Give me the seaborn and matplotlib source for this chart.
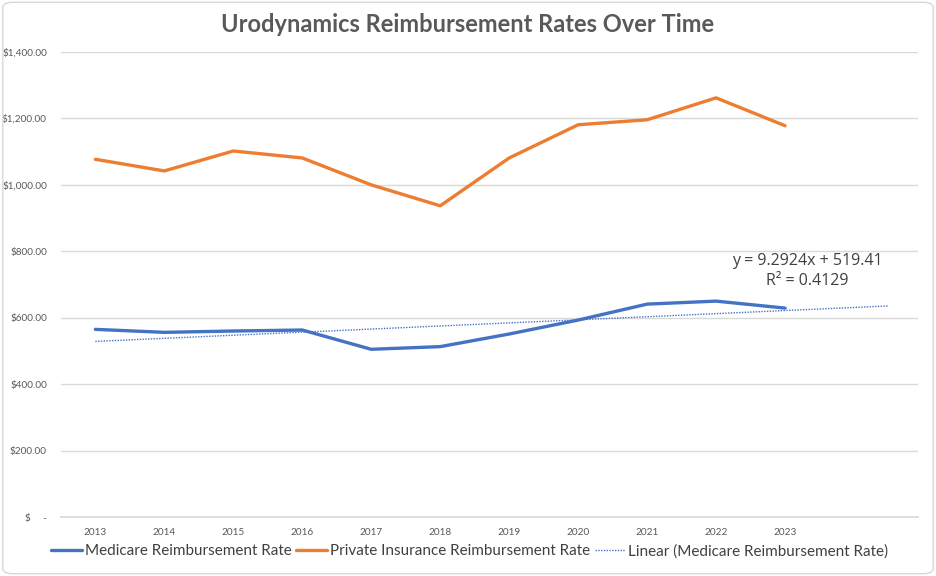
import matplotlib
matplotlib.use("Agg")
import matplotlib.pyplot as plt
import numpy as np
import pandas as pd
import seaborn as sns
from matplotlib.patches import FancyBboxPatch

# Data
years = ["2013", "2014", "2015", "2016", "2017", "2018", "2019", "2020", "2021", "2022", "2023"]
medicare = [565, 556, 560, 563, 505, 513, 551, 593, 641, 650, 629]
private = [1077, 1042, 1102, 1081, 1000, 937, 1081, 1181, 1196, 1262, 1178]
trend_slope = 9.2924
trend_intercept = 519.41
trend_r2 = 0.4129
y_ticks = [0, 200, 400, 600, 800, 1000, 1200, 1400]

sns.set_theme(style="white")
plt.rcParams["font.family"] = ["Lato", "DejaVu Sans"]

df = pd.DataFrame({"idx": np.arange(len(years)), "Year": years,
                   "Medicare": medicare, "Private": private})

# Excel trendline: x = 1..n, forecast forward to 12.5
trend_x = np.array([1, len(years) + 1.5])
trend = pd.DataFrame({"idx": trend_x - 1, "val": trend_slope * trend_x + trend_intercept})

fig = plt.figure(figsize=(9.36, 5.76), dpi=100)
ax = fig.add_axes([0.065, 0.1024, 0.916, 0.8073])

blue = "#4472C4"
orange = "#ED7D31"
sns.lineplot(data=df, x="idx", y="Medicare", ax=ax, color=blue, lw=2.4,
             label="Medicare Reimbursement Rate")
sns.lineplot(data=df, x="idx", y="Private", ax=ax, color=orange, lw=2.4,
             label="Private Insurance Reimbursement Rate")
sns.lineplot(data=trend, x="idx", y="val", ax=ax, color=blue, lw=1.0,
             linestyle=(0, (1, 1)), label="Linear (Medicare Reimbursement Rate)")

ax.set_xlim(-0.5, 11.93)
ax.set_ylim(0, 1400)
ax.set_xticks(df["idx"])
ax.set_xticklabels(years)
ax.set_yticks(y_ticks)
ax.set_yticklabels([f"${v:,.2f}" if v else "$     -" for v in y_ticks])
ax.tick_params(axis="both", labelsize=7.2, colors="#595959", length=0)
ax.tick_params(axis="x", pad=8)
ax.tick_params(axis="y", pad=10)
ax.set_xlabel("")
ax.set_ylabel("")
ax.grid(axis="y", color="#D9D9D9", lw=1)
for s in ["top", "right", "left"]:
    ax.spines[s].set_visible(False)
ax.spines["bottom"].set_color("#D9D9D9")

fig.text(0.5, 0.957, "Urodynamics Reimbursement Rates Over Time", fontsize=17,
         fontweight="bold", color="#595959", ha="center", va="center")

ax.text(10.32, 795, f"y = {trend_slope}x + {trend_intercept}\nR² = {trend_r2}",
        ha="center", va="top", fontsize=11.5, color="#404040",
        linespacing=1.35, family=["Open Sans", "DejaVu Sans"])

ax.legend_.remove()
handles, labels = ax.get_legend_handles_labels()
fig.legend(handles, labels, loc="center", bbox_to_anchor=(0.502, 0.043), ncol=3,
           frameon=False, fontsize=11, handlelength=2.0, handletextpad=0.2,
           columnspacing=0.3, labelcolor="#404040")

fig.patches.append(FancyBboxPatch((0.003, 0.004), 0.994, 0.992,
                                  boxstyle="round,pad=0,rounding_size=0.01",
                                  transform=fig.transFigure, fill=False,
                                  edgecolor="#D9D9D9", lw=1))

fig.savefig("out.png", dpi=100)
